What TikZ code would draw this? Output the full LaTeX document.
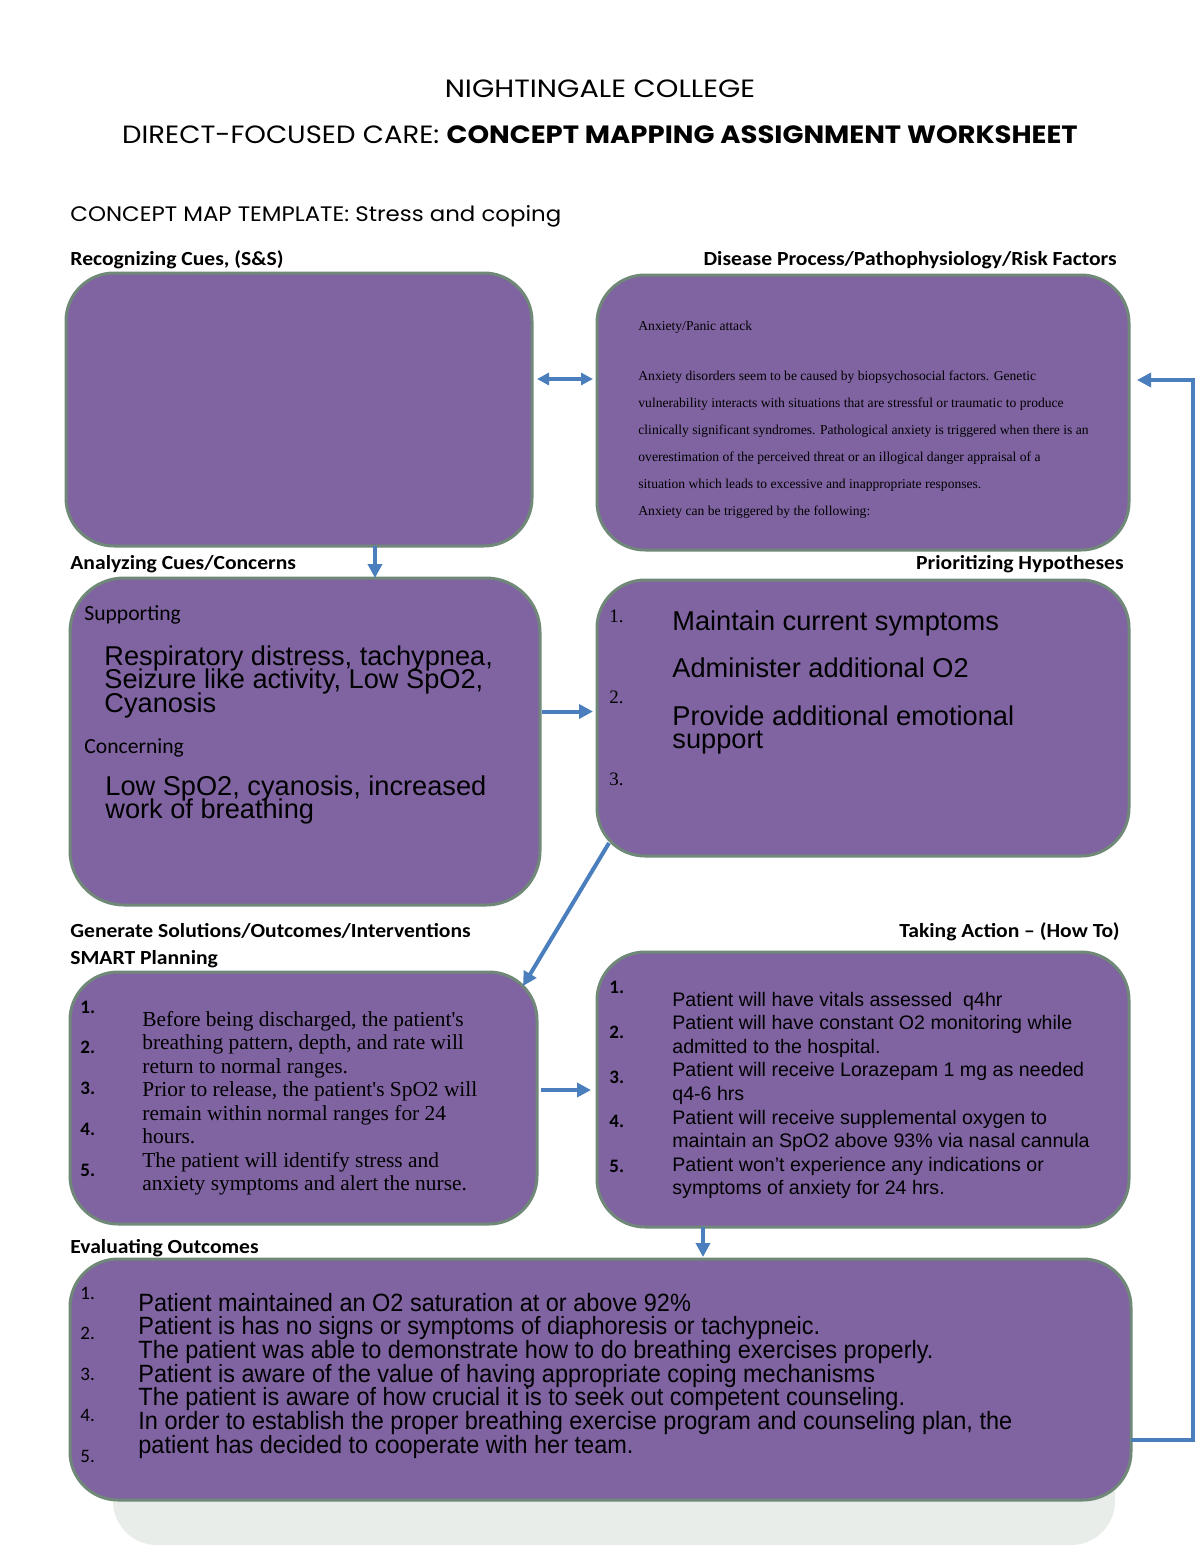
\documentclass[tikz,border=0pt]{standalone}
\usepackage{fontspec}
\setmainfont{Liberation Sans}
\newfontfamily\popA[FakeStretch=1.15]{Poppins}
\newfontfamily\popB[FakeStretch=1.10]{Poppins}
\newfontfamily\popC[FakeStretch=1.09]{Poppins}
\newfontfamily\calfont{Carlito}
\newfontfamily\calwide[FakeStretch=1.08]{Carlito}
\newfontfamily\serfont{Liberation Serif}
\newfontfamily\narfont[FakeStretch=0.94]{Liberation Sans}
\usetikzlibrary{arrows.meta,calc}
\definecolor{boxfill}{RGB}{128,100,162}
\definecolor{boxline}{RGB}{112,136,120}
\definecolor{arrblue}{RGB}{74,126,189}
\definecolor{shadowgray}{RGB}{232,237,233}
\begin{document}
\begin{tikzpicture}[x=0.5pt,y=-0.5pt,
  box/.style={draw=boxline, line width=1.5pt, fill=boxfill, rounded corners=24pt, inner sep=0pt, outer sep=0pt},
  txt/.style={inner sep=0pt, anchor=base west},
  lbl/.style={txt, font=\calwide\bfseries\fontsize{10}{12}\selectfont},
  lblr/.style={lbl, anchor=base east},
  num/.style={txt, font=\calfont\bfseries\fontsize{9.5}{11}\selectfont},
  arr/.style={draw=arrblue, line width=2pt, -{Triangle[length=7pt,width=7pt]}},
  darr/.style={draw=arrblue, line width=2pt, {Triangle[length=6pt,width=6pt]}-{Triangle[length=6pt,width=6pt]}}
]
\useasboundingbox (0,0) rectangle (1200,1553);
\fill[white] (0,0) rectangle (1200,1553);

% header
\node[font=\popA\fontsize{12.5}{15}\selectfont, anchor=base, inner sep=0pt] (title1) at (600,97) {NIGHTINGALE COLLEGE};
\node[font=\popB\fontsize{12.5}{15}\selectfont, anchor=base, inner sep=0pt] (title2) at (600,143) {DIRECT-FOCUSED CARE: \textbf{CONCEPT MAPPING ASSIGNMENT WORKSHEET}};
\node[font=\popC\fontsize{10.5}{13}\selectfont, txt] (tmpl) at (70,221) {CONCEPT MAP TEMPLATE: Stress and coping};

% section labels
\node[lbl] (l1) at (70,265) {Recognizing Cues, (S\&S)};
\node[lblr] (l2) at (1117,265) {Disease Process/Pathophysiology/Risk Factors};
\node[lbl] (l3) at (70,569) {Analyzing Cues/Concerns};
\node[lblr] (l4) at (1124,569) {Prioritizing Hypotheses};
\node[lbl] (l5) at (70,937) {Generate Solutions/Outcomes/Interventions};
\node[lbl] (l5b) at (70,964) {SMART Planning};
\node[lblr] (l6) at (1120,937) {Taking Action – (How To)};
\node[lbl] (l7) at (70,1253) {Evaluating Outcomes};

% shadow behind last box
\fill[shadowgray, rounded corners=22pt] (113,1440) rectangle (1115,1545);

% boxes
\node[box, minimum width=233pt, minimum height=136.5pt] (b1) at (299,409.5) {};
\node[box, minimum width=266pt, minimum height=137.5pt] (b2) at (863,412.5) {};
\node[box, minimum width=235pt, minimum height=163.5pt, rounded corners=27pt] (b3) at (305,741.5) {};
\node[box, minimum width=266pt, minimum height=138pt] (b4) at (863,718) {};
\node[box, minimum width=233.5pt, minimum height=126pt] (b5) at (303.5,1098) {};
\node[box, minimum width=266pt, minimum height=137.5pt] (b6) at (863,1089.5) {};
\node[box, minimum width=530.5pt, minimum height=120.5pt] (b7) at (600.5,1379.5) {};

% box 2 text
\begin{scope}[every node/.style={txt, font=\serfont\fontsize{6.8}{8}\selectfont}]
\node (b2h) at (638,330) {Anxiety/Panic attack};
\foreach \t [count=\i from 0] in {
 {Anxiety disorders seem to be caused by biopsychosocial factors. Genetic},
 {vulnerability interacts with situations that are stressful or traumatic to produce},
 {clinically significant syndromes. Pathological anxiety is triggered when there is an},
 {overestimation of the perceived threat or an illogical danger appraisal of a},
 {situation which leads to excessive and inappropriate responses.},
 {Anxiety can be triggered by the following:}}
 {\node (b2t\i) at (638,380+27*\i) {\t};}
\end{scope}

% box 3 text
\node[txt, font=\calfont\fontsize{10.8}{12}\selectfont] (b3s) at (84,620) {Supporting};
\node[txt, font=\calfont\fontsize{10.8}{12}\selectfont] (b3c) at (84,753) {Concerning};
\begin{scope}[every node/.style={txt, font=\fontsize{13.6}{15}\selectfont}]
\node (b3a) at (104,665) {Respiratory distress, tachypnea,};
\node (b3b) at (104,688) {Seizure like activity, Low SpO2,};
\node (b3d) at (104,712) {Cyanosis};
\node (b3e) at (105,795) {Low SpO2, cyanosis, increased};
\node (b3f) at (105,818) {work of breathing};
\end{scope}

% box 4 text
\foreach \n/\yy in {1/622,2/703,3/785}
 {\node[txt, font=\serfont\fontsize{9.5}{11}\selectfont] (b4n\n) at (609,\yy) {\n.};}
\begin{scope}[every node/.style={txt, font=\fontsize{13.6}{15}\selectfont}]
\node (b4a) at (672,630) {Maintain current symptoms};
\node (b4b) at (672,677) {Administer additional O2};
\node (b4c) at (672,725) {Provide additional emotional};
\node (b4d) at (672,748) {support};
\end{scope}

% box 5 text
\foreach \n/\yy in {1/1013,2/1053,3/1094,4/1135,5/1176}
 {\node[num] (b5n\n) at (80,\yy) {\n.};}
\foreach \t [count=\i from 0] in {
 {Before being discharged, the patient's},
 {breathing pattern, depth, and rate will},
 {return to normal ranges.},
 {Prior to release, the patient's SpO2 will},
 {remain within normal ranges for 24},
 {hours.},
 {The patient will identify stress and},
 {anxiety symptoms and alert the nurse.}}
 {\node[txt, font=\serfont\fontsize{10.7}{12}\selectfont] (b5t\i) at (142,1026+23.5*\i) {\t};}

% box 6 text
\foreach \n/\yy in {1/993,2/1038,3/1083,4/1127,5/1172}
 {\node[num] (b6n\n) at (609,\yy) {\n.};}
\foreach \t [count=\i from 0] in {
 {Patient will have vitals assessed \ q4hr},
 {Patient will have constant O2 monitoring while},
 {admitted to the hospital.},
 {Patient will receive Lorazepam 1 mg as needed},
 {q4-6 hrs},
 {Patient will receive supplemental oxygen to},
 {maintain an SpO2 above 93\% via nasal cannula},
 {Patient won't experience any indications or},
 {symptoms of anxiety for 24 hrs.}}
 {\node[txt, font=\fontsize{9.8}{11}\selectfont] (b6t\i) at (672,1006+23.6*\i) {\t};}

% box 7 text
\foreach \n/\yy in {1/1299,2/1339,3/1380,4/1421,5/1462}
 {\node[num, font=\calfont\fontsize{9.5}{11}\selectfont] (b7n\n) at (80,\yy) {\n.};}
\foreach \t [count=\i from 0] in {
 {Patient maintained an O2 saturation at or above 92\%},
 {Patient is has no signs or symptoms of diaphoresis or tachypneic.},
 {The patient was able to demonstrate how to do breathing exercises properly.},
 {Patient is aware of the value of having appropriate coping mechanisms},
 {The patient is aware of how crucial it is to seek out competent counseling.},
 {In order to establish the proper breathing exercise program and counseling plan, the},
 {patient has decided to cooperate with her team.}}
 {\node[txt, font=\narfont\fontsize{12.5}{14}\selectfont] (b7t\i) at (138,1311+23.7*\i) {\t};}

% connectors
\draw[darr, shorten <=2.5pt, shorten >=2pt] ([yshift=15.25pt]b1.east) -- ([yshift=15.25pt]b1.east -| b2.west);
\draw[arr] ([xshift=38pt]b1.south) -- ([xshift=38pt]b1.south |- b3.north);
\draw[arr, shorten <=1pt, shorten >=2pt] ([yshift=15pt]b3.east) -- ([yshift=15pt]b3.east -| b4.west);
\draw[arr] ($(b4.south west)+(12,-13)$) -- ($(b5.north east)+(-14,14)$);
\draw[arr, shorten <=2pt, shorten >=3pt] ([yshift=4pt]b5.east) -- ([yshift=4pt]b5.east -| b6.west);
\draw[arr, shorten >=1pt] ([xshift=-80pt]b6.south) -- ([xshift=-80pt]b6.south |- b7.north);
\coordinate (fb) at (1193,800);
\draw[arr, line width=1.6pt, shorten >=4pt] ([yshift=-30.25pt]b7.east) -- ([yshift=-30.25pt]b7.east -| fb) -- ([yshift=16.25pt]b2.east -| fb) -- ([yshift=16.25pt]b2.east);
\end{tikzpicture}
\end{document}
